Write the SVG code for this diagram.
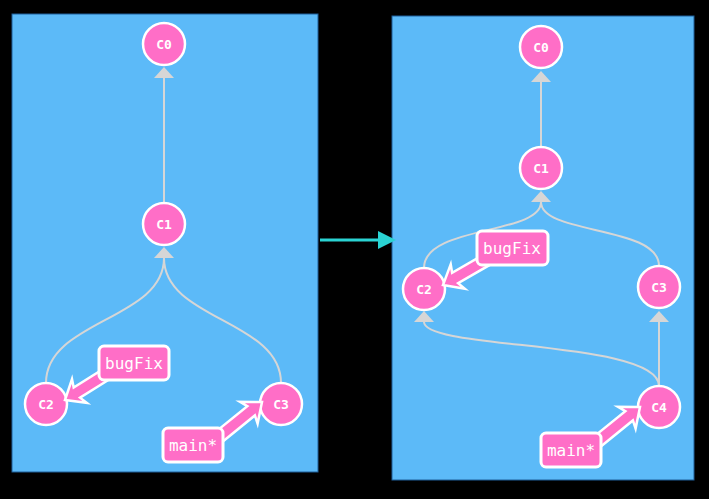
<svg xmlns="http://www.w3.org/2000/svg" width="709" height="499" viewBox="0 0 709 499">
<defs>
<style>
.panel{fill:#5cbaf8;stroke:#1f5f99;stroke-width:1}
.edge{fill:none;stroke:#d6d6d6;stroke-width:2}
.ah{fill:#d6d6d6}
.node circle{fill:#ff6ec7;stroke:#fff;stroke-width:2.5}
.node text{fill:#fff;font-family:"DejaVu Sans Mono",monospace;font-weight:bold;font-size:13px;text-anchor:middle}
.fat{fill:#ff6ec7;stroke:#fff;stroke-width:2.5;stroke-linejoin:miter}
.lbl rect{fill:#ff6ec7;stroke:#fff;stroke-width:3}
.lbl text{fill:#fff;font-family:"DejaVu Sans Mono",monospace;font-size:16px;text-anchor:middle}
</style>
<marker id="tri" viewBox="0 0 10 10" refX="0" refY="5" markerWidth="6" markerHeight="6" orient="auto"><path d="M0,0L10,5L0,10z" fill="#2ad3d3"/></marker>
</defs>
<rect width="709" height="499" fill="#000"/>
<rect class="panel" x="12" y="14" width="306" height="458"/>
<rect class="panel" x="392" y="16" width="302" height="464"/>
<g id="connectors">
<path class="edge" d="M164,203V78"/><path class="ah" d="M164,67l-10,11h20z"/>
<path class="edge" d="M46,383C46,320 164,320 164,258"/>
<path class="edge" d="M281,383C281,320 164,320 164,258"/><path class="ah" d="M164,247l-10,11h20z"/>
<path class="edge" d="M541,147V82"/><path class="ah" d="M541,71l-10,11h20z"/>
<path class="edge" d="M424,268C424,225 541,235 541,202"/>
<path class="edge" d="M659,266C659,225 541,235 541,202"/><path class="ah" d="M541,191l-10,11h20z"/>
<path class="edge" d="M659,386V322"/><path class="ah" d="M659,311l-10,11h20z"/>
<path class="edge" d="M659,386C659,340 424,350 424,322"/><path class="ah" d="M424,311l-10,11h20z"/>
<path d="M320,240H378" stroke="#2ad3d3" stroke-width="3" marker-end="url(#tri)"/>
</g>
<g id="C0a" class="node"><circle cx="164" cy="44" r="21"/><text x="164" y="49">C0</text></g>
<g id="C1a" class="node"><circle cx="164" cy="224" r="21"/><text x="164" y="229">C1</text></g>
<g id="C2a" class="node"><circle cx="46" cy="404" r="21"/><text x="46" y="409">C2</text></g>
<g id="C3a" class="node"><circle cx="281" cy="404" r="21"/><text x="281" y="409">C3</text></g>
<g id="C0b" class="node"><circle cx="541" cy="47" r="21"/><text x="541" y="52">C0</text></g>
<g id="C1b" class="node"><circle cx="541" cy="168" r="21"/><text x="541" y="173">C1</text></g>
<g id="C2b" class="node"><circle cx="424" cy="289" r="21"/><text x="424" y="294">C2</text></g>
<g id="C3b" class="node"><circle cx="659" cy="287" r="21"/><text x="659" y="292">C3</text></g>
<g id="C4b" class="node"><circle cx="659" cy="407" r="21"/><text x="659" y="412">C4</text></g>
<g id="bugFixA" class="lbl">
<polygon class="fat" transform="translate(65,400) rotate(148)" points="0,0 -17,-14 -14,-6 -55,-6 -55,6 -14,6 -17,14"/>
<rect x="99" y="346" width="70" height="34" rx="5"/><text x="134" y="369">bugFix</text></g>
<g id="mainA" class="lbl">
<polygon class="fat" transform="translate(262,402) rotate(-39)" points="0,0 -17,-14 -14,-6 -60,-6 -60,6 -14,6 -17,14"/>
<rect x="163" y="428" width="60" height="34" rx="5"/><text x="193" y="451">main*</text></g>
<g id="bugFixB" class="lbl">
<polygon class="fat" transform="translate(443,285) rotate(150)" points="0,0 -17,-14 -14,-6 -55,-6 -55,6 -14,6 -17,14"/>
<rect x="477" y="231" width="71" height="34" rx="5"/><text x="512" y="254">bugFix</text></g>
<g id="mainB" class="lbl">
<polygon class="fat" transform="translate(640,407) rotate(-39)" points="0,0 -17,-14 -14,-6 -60,-6 -60,6 -14,6 -17,14"/>
<rect x="541" y="433" width="60" height="34" rx="5"/><text x="571" y="456">main*</text></g>
</svg>
